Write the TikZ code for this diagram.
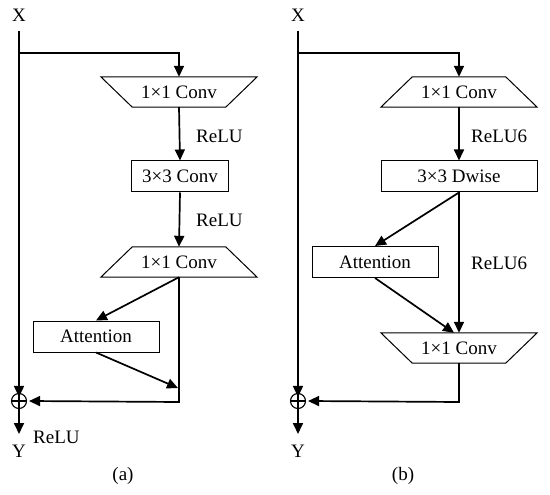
\documentclass[tikz,border=0pt]{standalone}
\usepackage{fontspec}
\setmainfont{Liberation Serif}
\usetikzlibrary{arrows.meta,calc}
\begin{document}
\begin{tikzpicture}[x=1pt,y=-1pt,
  every node/.style={font=\fontsize{19}{22}\selectfont, inner sep=0pt},
  arr/.style={line width=1.7pt,-{Triangle[length=11pt,width=10pt]}},
  rbox/.style={draw,line width=1pt,minimum height=31pt},
  tzline/.style={line width=1pt},
  tzhold/.style={minimum width=156pt,minimum height=30pt},
  plusnode/.style={circle,draw,line width=1.1pt,minimum size=15pt,path picture={
     \draw[line width=1.1pt] (path picture bounding box.north) -- (path picture bounding box.south)
       (path picture bounding box.west) -- (path picture bounding box.east);}},
  lbl/.style={anchor=west}
]
\useasboundingbox (0,0) rectangle (550,495);

% ---------------- (a) ----------------
\node (Xa) at (19,15) {X};
\coordinate (ta) at (19,31);
\coordinate (ba) at (19,53);
\node[tzhold] (c1a) at (179,92) {1×1 Conv};
\draw[tzline] (c1a.north west) -- (c1a.north east) -- ([xshift=-31.5pt]c1a.south east) -- ([xshift=31.5pt]c1a.south west) -- cycle;
\node[lbl] (r1a) at (196,136) {ReLU};
\node[rbox,minimum width=97pt] (k3a) at (180,176.5) {3×3 Conv};
\node[lbl] (r2a) at (196,220) {ReLU};
\node[tzhold] (c2a) at (179,262) {1×1 Conv};
\draw[tzline] ([xshift=31.5pt]c2a.north west) -- ([xshift=-31.5pt]c2a.north east) -- (c2a.south east) -- (c2a.south west) -- cycle;
\node[rbox,minimum width=126pt] (atta) at (96,336.5) {Attention};
\coordinate (ea) at (178,388);
\coordinate (ca) at (179,402);
\node[plusnode] (pa) at (19,401) {};
\coordinate (ya) at (19,434);
\node (Ya) at (19,451) {Y};
\node[lbl] (r3a) at (33,437) {ReLU};
\node (capa) at (123,476) {(a)};

\draw[arr] (ta) -- ([yshift=-4pt]pa.north);
\draw[arr] (ba) -| (c1a.north);
\draw[arr] (c1a.south) -- (k3a.north);
\draw[arr] (k3a.south) -- (c2a.north);
\draw[arr] (c2a.south) -- (atta.north);
\draw[arr] (atta.south) -- (ea);
\draw[arr] (c2a.south) -- (ca) -- ([xshift=2pt]pa.east);
\draw[arr] (pa.south) -- (ya);

% ---------------- (b) ----------------
\node (Xb) at (298,15) {X};
\coordinate (tb) at (298,31);
\coordinate (bb) at (298,53);
\node[tzhold] (c1b) at (459,92) {1×1 Conv};
\draw[tzline] ([xshift=31.5pt]c1b.north west) -- ([xshift=-31.5pt]c1b.north east) -- (c1b.south east) -- (c1b.south west) -- cycle;
\node[lbl] (r1b) at (471,136) {ReLU6};
\node[rbox,minimum width=156pt] (dwb) at (459,176.5) {3×3 Dwise};
\node[rbox,minimum width=126pt] (attb) at (375,262) {Attention};
\node[lbl] (r2b) at (471,263) {ReLU6};
\node[tzhold] (c3b) at (459,348) {1×1 Conv};
\draw[tzline] (c3b.north west) -- (c3b.north east) -- ([xshift=-31.5pt]c3b.south east) -- ([xshift=31.5pt]c3b.south west) -- cycle;
\coordinate (cb) at (459,402);
\node[plusnode] (pb) at (298,401) {};
\coordinate (yb) at (298,434);
\node (Yb) at (298,451) {Y};
\node (capb) at (403,476) {(b)};

\draw[arr] (tb) -- ([yshift=-4pt]pb.north);
\draw[arr] (bb) -| (c1b.north);
\draw[arr] (c1b.south) -- (dwb.north);
\draw[arr] (dwb.south) -- (attb.north);
\draw[arr] (dwb.south) -- (c3b.north);
\draw[arr] (attb.south) -- ([xshift=-5pt]c3b.north);
\draw[arr] (c3b.south) -- (cb) -- ([xshift=2pt]pb.east);
\draw[arr] (pb.south) -- (yb);
\end{tikzpicture}
\end{document}
